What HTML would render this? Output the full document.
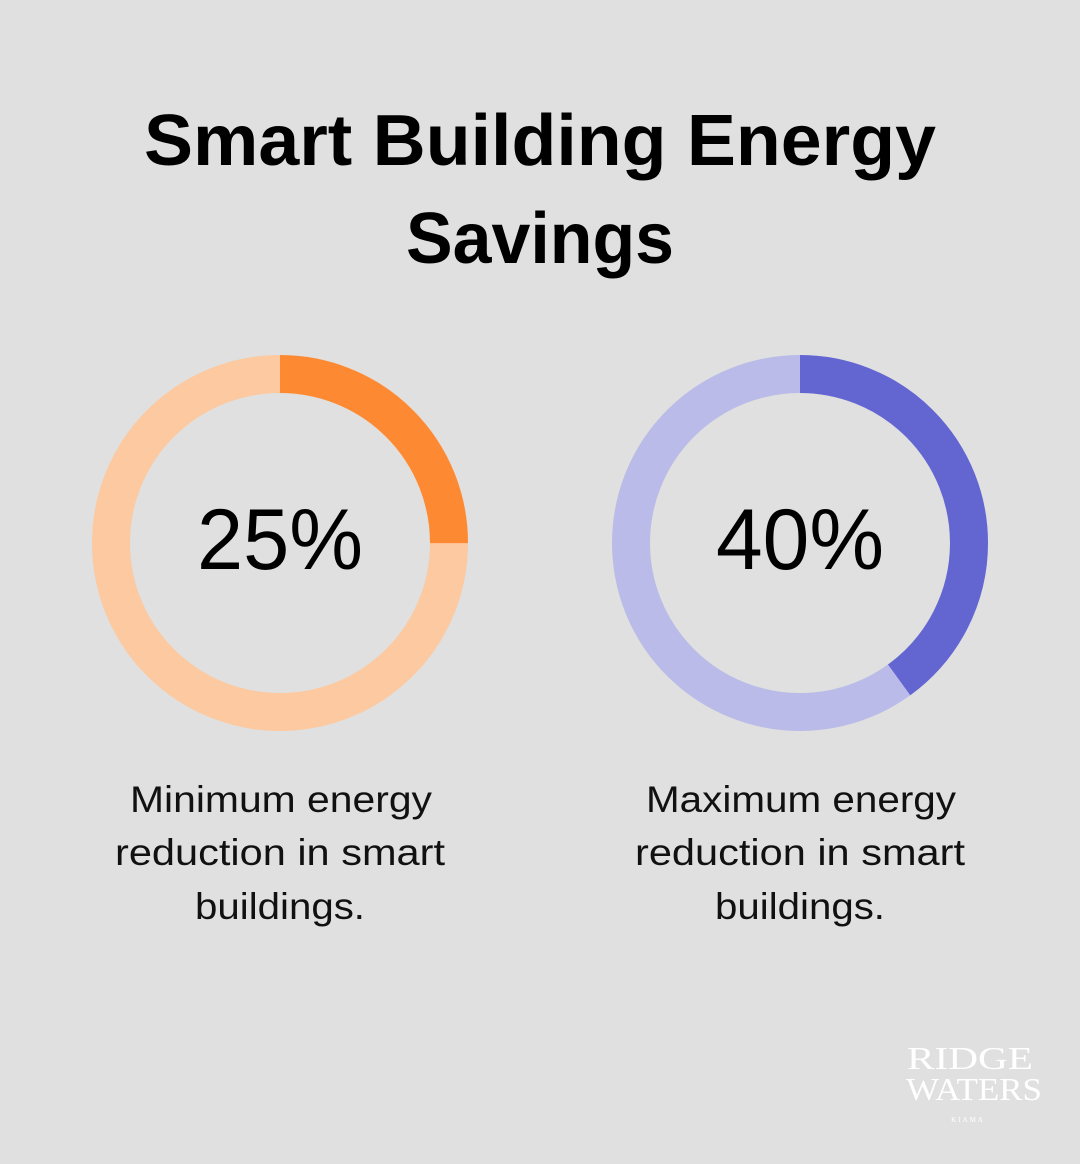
<!DOCTYPE html>
<html><head><meta charset="utf-8"><style>
html,body{margin:0;padding:0;background:#dfe0df;}
svg{display:block}
</style></head><body>
<svg width="1080" height="1164" viewBox="0 0 1080 1164" xmlns="http://www.w3.org/2000/svg">
<rect width="1080" height="1164" fill="#dfe0df"/>
<g font-family="Liberation Sans, DejaVu Sans, sans-serif" fill="#000" text-anchor="middle">
<text x="540" y="165" font-size="72" font-weight="bold" textLength="792" lengthAdjust="spacingAndGlyphs">Smart Building Energy</text>
<text x="540" y="263" font-size="72" font-weight="bold" textLength="268" lengthAdjust="spacingAndGlyphs">Savings</text>
</g>
<circle cx="280" cy="543" r="169" fill="none" stroke="#fdc9a0" stroke-width="38"/>
<circle cx="280" cy="543" r="169" fill="none" stroke="#fd8a33" stroke-width="38" stroke-dasharray="265.5 2000" transform="rotate(-90 280 543)"/>
<circle cx="800" cy="543" r="169" fill="none" stroke="#babbe8" stroke-width="38"/>
<circle cx="800" cy="543" r="169" fill="none" stroke="#6366d1" stroke-width="38" stroke-dasharray="424.8 2000" transform="rotate(-90 800 543)"/>
<g font-family="Liberation Sans, DejaVu Sans, sans-serif" fill="#000" text-anchor="middle">
<text x="280" y="569" font-size="86" textLength="166" lengthAdjust="spacingAndGlyphs">25%</text>
<text x="800" y="569" font-size="86" textLength="168" lengthAdjust="spacingAndGlyphs">40%</text>
</g>
<g font-family="Liberation Sans, DejaVu Sans, sans-serif" fill="#111" text-anchor="middle" font-size="37">
<text x="281" y="812" textLength="302" lengthAdjust="spacingAndGlyphs">Minimum energy</text>
<text x="280" y="865" textLength="330" lengthAdjust="spacingAndGlyphs">reduction in smart</text>
<text x="280" y="919" textLength="170" lengthAdjust="spacingAndGlyphs">buildings.</text>
<text x="801" y="812" textLength="310" lengthAdjust="spacingAndGlyphs">Maximum energy</text>
<text x="800" y="865" textLength="330" lengthAdjust="spacingAndGlyphs">reduction in smart</text>
<text x="800" y="919" textLength="170" lengthAdjust="spacingAndGlyphs">buildings.</text>
</g>
<g font-family="Liberation Serif, DejaVu Serif, serif" fill="#ffffff" text-anchor="middle">
<text x="970" y="1069" font-size="32" textLength="126" lengthAdjust="spacingAndGlyphs">RIDGE</text>
<text x="974" y="1100" font-size="32" textLength="136" lengthAdjust="spacingAndGlyphs">WATERS</text>
<text x="968" y="1122" font-size="7" letter-spacing="2">KIAMA</text>
</g>
</svg>
</body></html>
